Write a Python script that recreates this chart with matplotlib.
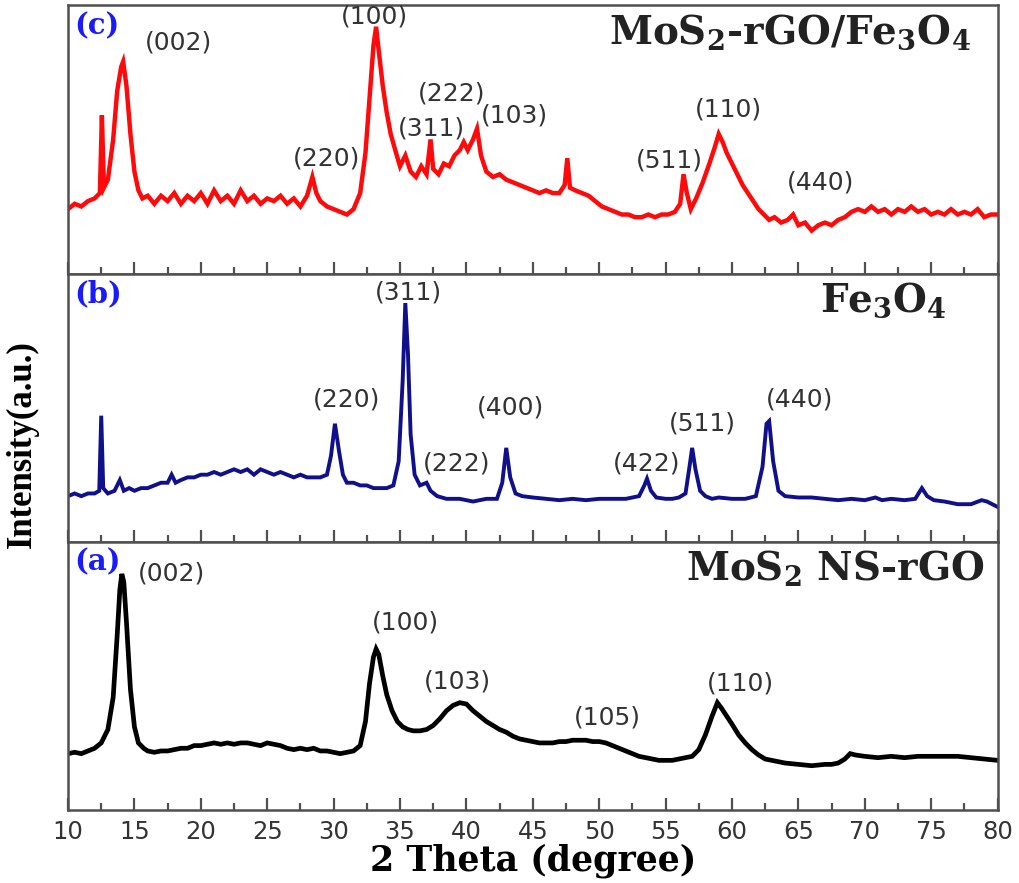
import matplotlib
matplotlib.use('Agg')
import matplotlib.pyplot as plt
from matplotlib.ticker import MultipleLocator

# ---- (c) MoS2-rGO/Fe3O4 ----
x_c = [10.0, 10.5, 11.0, 11.5, 12.0, 12.4, 12.55, 12.7, 13.0, 13.4, 13.7, 14.0, 14.15, 14.4, 14.7,
       15.0, 15.3, 15.6, 16.0, 16.5, 17.0, 17.5, 18.0, 18.5, 19.0, 19.5, 20.0, 20.5, 21.0, 21.5,
       22.0, 22.5, 23.0, 23.5, 24.0, 24.5, 25.0, 25.5, 26.0, 26.5, 27.0, 27.5, 28.0, 28.4, 28.7,
       29.0, 29.5, 30.0, 30.5, 31.0, 31.5, 32.0, 32.4, 32.7, 33.0, 33.2, 33.4, 33.7, 34.0, 34.3,
       34.7, 35.0, 35.4, 35.8, 36.2, 36.6, 37.0, 37.3, 37.5, 37.9, 38.3, 38.7, 39.1, 39.5, 39.8,
       40.1, 40.5, 40.8, 41.1, 41.5, 42.0, 42.5, 43.0, 43.5, 44.0, 44.5, 45.0, 45.5, 46.0, 46.5,
       47.0, 47.4, 47.6, 47.8, 48.2, 48.7, 49.2, 49.7, 50.2, 50.7, 51.2, 51.7, 52.2, 52.7, 53.2,
       53.7, 54.2, 54.7, 55.2, 55.7, 56.1, 56.35, 56.6, 56.9, 57.3, 57.8, 58.3, 58.7, 59.0, 59.3,
       59.6, 60.0, 60.4, 60.8, 61.2, 61.6, 62.0, 62.4, 62.8, 63.2, 63.7, 64.2, 64.6, 65.0, 65.5,
       66.0, 66.5, 67.0, 67.5, 68.0, 68.5, 69.0, 69.5, 70.0, 70.5, 71.0, 71.5, 72.0, 72.5, 73.0,
       73.5, 74.0, 74.5, 75.0, 75.5, 76.0, 76.5, 77.0, 77.5, 78.0, 78.5, 79.0, 79.5, 80.0]
y_c = [24, 26, 25, 27, 28, 30, 59, 32, 35, 50, 68, 77, 79, 70, 52,
       38, 31, 28, 29, 26, 29, 27, 30, 26, 29, 27, 30, 26, 31, 27,
       29, 26, 31, 27, 29, 26, 28, 27, 29, 26, 28, 25, 29, 36, 30,
       27, 25, 24, 23, 22, 24, 30, 45, 65, 85, 92, 83, 70, 60, 52,
       45, 40, 44, 38, 36, 40, 37, 50, 39, 37, 41, 40, 44, 46, 49,
       46, 50, 54, 44, 38, 36, 37, 35, 34, 33, 32, 31, 30, 31, 30,
       30, 33, 43, 32, 31, 30, 29, 27, 25, 24, 23, 22, 22, 21, 21,
       22, 21, 22, 22, 23, 26, 37, 30, 24, 28, 34, 41, 47, 52, 49,
       45, 41, 37, 33, 30, 27, 24, 22, 20, 21, 19, 20, 22, 18, 19,
       16, 18, 19, 18, 20, 21, 23, 24, 23, 25, 23, 24, 22, 24, 23,
       25, 23, 24, 22, 23, 22, 24, 22, 23, 22, 24, 21, 22, 22]

# ---- (b) Fe3O4 ----
x_b = [10.0, 10.5, 11.0, 11.5, 12.0, 12.35, 12.5, 12.65, 13.0, 13.5, 13.9, 14.2, 14.6, 15.0, 15.5,
       16.0, 16.5, 17.0, 17.5, 17.8, 18.1, 18.5, 19.0, 19.5, 20.0, 20.5, 21.0, 21.5, 22.0, 22.5,
       23.0, 23.5, 24.0, 24.5, 25.0, 25.5, 26.0, 26.5, 27.0, 27.5, 28.0, 28.5, 29.0, 29.5, 29.8,
       30.1, 30.4, 30.7, 31.0, 31.5, 32.0, 32.5, 33.0, 33.5, 34.0, 34.5, 34.9, 35.2, 35.4, 35.6,
       35.8, 36.1, 36.5, 37.0, 37.3, 37.8, 38.5, 39.5, 40.5, 41.5, 42.3, 42.7, 43.0, 43.3, 43.7,
       44.2, 45.0, 46.0, 47.0, 48.0, 49.0, 50.0, 51.0, 52.0, 53.0, 53.4, 53.6, 53.9, 54.3, 55.0,
       55.5, 56.0, 56.5, 56.8, 57.0, 57.25, 57.6, 58.0, 58.5, 59.0, 60.0, 61.0, 61.8, 62.3, 62.6,
       62.8, 63.1, 63.5, 64.0, 65.0, 66.0, 67.0, 68.0, 69.0, 70.0, 70.8, 71.3, 72.0, 73.0, 73.8,
       74.3, 74.7, 75.2, 76.0, 77.0, 78.0, 78.8, 79.2, 80.0]
y_b = [17, 18, 17, 18, 18, 19, 47, 20, 18, 19, 23, 19, 20, 19, 20,
       20, 21, 22, 22, 25, 22, 23, 24, 24, 25, 25, 26, 25, 26, 27,
       26, 27, 25, 27, 26, 25, 26, 25, 24, 25, 24, 24, 24, 25, 32,
       44, 34, 25, 22, 22, 21, 21, 20, 20, 20, 21, 30, 60, 89, 70,
       40, 25, 21, 22, 19, 17, 16, 16, 15, 16, 16, 22, 35, 24, 18,
       17, 16.5, 16, 15.5, 16, 15.5, 16, 16, 16, 17, 21, 23.5, 19, 16.5, 16,
       16, 16.5, 18, 28, 35, 27, 19, 17, 16, 16.5, 16, 16, 17, 28, 44,
       45, 30, 19, 17, 16.5, 16.5, 16, 15.5, 16, 15.5, 16.5, 15.5, 16, 15.5, 16,
       20, 17, 15.5, 15, 14, 14, 15.5, 15, 13]

# ---- (a) MoS2 NS-rGO ----
x_a = [10.0, 10.5, 11.0, 11.5, 12.0, 12.5, 13.0, 13.4, 13.7, 13.9, 14.05, 14.2, 14.4, 14.7, 15.0,
       15.3, 15.7, 16.0, 16.5, 17.0, 17.5, 18.0, 18.5, 19.0, 19.5, 20.0, 20.5, 21.0, 21.5, 22.0,
       22.5, 23.0, 23.5, 24.0, 24.5, 25.0, 25.5, 26.0, 26.5, 27.0, 27.5, 28.0, 28.5, 29.0, 29.5,
       30.0, 30.5, 31.0, 31.5, 32.0, 32.4, 32.7, 33.0, 33.2, 33.4, 33.7, 34.0, 34.4, 34.8, 35.2,
       35.6, 36.0, 36.5, 37.0, 37.5, 38.0, 38.5, 39.0, 39.5, 40.0, 40.5, 41.0, 41.5, 42.0, 42.5,
       43.0, 43.5, 44.0, 44.5, 45.0, 45.5, 46.0, 46.5, 47.0, 47.5, 48.0, 48.5, 49.0, 49.5, 50.0,
       50.5, 51.0, 51.5, 52.0, 52.5, 53.0, 53.5, 54.0, 54.5, 55.0, 55.5, 56.0, 56.5, 57.0, 57.5,
       58.0, 58.5, 58.9, 59.2, 59.6, 60.0, 60.5, 61.0, 61.5, 62.0, 62.5, 63.0, 64.0, 65.0, 66.0,
       67.0, 67.5, 68.0, 68.5, 68.9, 69.3, 70.0, 71.0, 72.0, 73.0, 74.0, 75.0, 76.0, 77.0, 78.0,
       79.0, 80.0]
y_a = [21, 21.5, 21, 22, 23, 25, 30, 42, 65, 82, 88, 85, 70, 45, 31,
       25, 23, 22, 21.5, 22, 22, 22.5, 23, 23, 24, 24, 24.5, 25, 24.5, 25,
       24.5, 25, 25, 24.5, 24, 25, 24.5, 24, 23, 22.5, 23, 22.5, 23, 22, 22,
       21.5, 21, 21.5, 22, 24, 33, 47, 57, 60, 58, 50, 43, 37, 33, 31,
       30, 29.5, 29.5, 30, 31.5, 34, 37, 39, 40, 39.5, 37, 35, 33, 31.5, 30,
       29, 27.5, 26.5, 26, 25.5, 25, 25, 25, 25.5, 25.5, 26, 26, 26, 25.5, 25.5,
       25, 24, 23, 22, 21, 20, 19.5, 19, 18.5, 18.5, 18.5, 19, 19.5, 20, 22.5,
       28, 35, 40, 38, 35, 32, 28, 25, 22.5, 20.5, 19, 18.5, 17.5, 17, 16.5,
       17, 17, 17.5, 19, 21, 20.5, 20, 19.5, 20, 19.5, 20, 20, 20, 20, 19.5,
       19, 18.5]

# peak labels: (text, x, y)
labels_c = [('(002)', 18.3, 86), ('(100)', 33.1, 96), ('(222)', 38.9, 67), ('(311)', 37.4, 54),
            ('(103)', 43.6, 59), ('(220)', 29.5, 43), ('(511)', 55.3, 42), ('(110)', 59.7, 61),
            ('(440)', 66.7, 34)]
labels_b = [('(311)', 35.6, 93), ('(220)', 31.0, 53), ('(222)', 39.3, 29), ('(400)', 43.3, 50),
            ('(422)', 53.6, 29), ('(511)', 57.8, 44), ('(440)', 65.1, 53)]
labels_a = [('(002)', 17.8, 88), ('(100)', 35.4, 70), ('(103)', 39.3, 48), ('(105)', 50.6, 34.5),
            ('(110)', 60.6, 47)]

panels = [
    (x_c, y_c, '#ff0a0a', 3.2, labels_c, '(c)', r'MoS$_\mathbf{2}$-rGO/Fe$_\mathbf{3}$O$_\mathbf{4}$', 78.0),
    (x_b, y_b, '#10108c', 2.8, labels_b, '(b)', r'Fe$_\mathbf{3}$O$_\mathbf{4}$', 76.2),
    (x_a, y_a, '#000000', 3.4, labels_a, '(a)', r'MoS$_\mathbf{2}$ NS-rGO', 79.0),
]

plt.rcParams['mathtext.fontset'] = 'custom'
plt.rcParams['mathtext.rm'] = 'DejaVu Serif:bold'
plt.rcParams['mathtext.bf'] = 'DejaVu Serif:bold'

fig = plt.figure(figsize=(10.2, 8.83), dpi=100)
left, right = 0.0667, 0.978
bottom, top = 0.0827, 0.994
h = (top - bottom) / 3
frame = '#505050'

axes = []
for i, (xs, ys, col, lw, labs, tag, title, tx) in enumerate(panels):
    ax = fig.add_axes([left, top - (i + 1) * h, right - left, h])
    ax.plot(xs, ys, color=col, lw=lw, solid_joinstyle='miter')
    ax.set_xlim(10, 80)
    ax.set_ylim(0, 100)
    ax.set_yticks([])
    ax.xaxis.set_major_locator(MultipleLocator(5))
    ax.xaxis.set_minor_locator(MultipleLocator(2.5))
    ax.tick_params(axis='x', which='major', direction='in', length=9, width=1.6, color=frame,
                   top=False, labelsize=17.5, labelcolor='#333333', pad=7)
    ax.tick_params(axis='x', which='minor', direction='in', length=5, width=1.6, color=frame, top=False)
    for s in ax.spines.values():
        s.set_color(frame)
        s.set_linewidth(1.8)
    if i < 2:
        ax.tick_params(axis='x', labelbottom=False)
    for t, lx, ly in labs:
        ax.text(lx, ly, t, ha='center', va='center', fontsize=18, color='#333333')
    ax.text(10.5, 92.5, tag, ha='left', va='center', fontsize=21, fontweight='bold',
            family='DejaVu Serif', color='#1a1aff')
    ax.text(tx, 90, title, ha='right', va='center', fontsize=28, fontweight='bold',
            family='DejaVu Serif', color='#222222')
    axes.append(ax)

axes[2].set_xlabel('2 Theta (degree)', fontsize=25, fontweight='bold', family='DejaVu Serif',
                   labelpad=0)
fig.text(0.022, 0.497, 'Intensity(a.u.)', rotation=90, ha='center', va='center', fontsize=25,
         fontweight='bold', family='Liberation Serif')

fig.savefig('out.png', dpi=100)
